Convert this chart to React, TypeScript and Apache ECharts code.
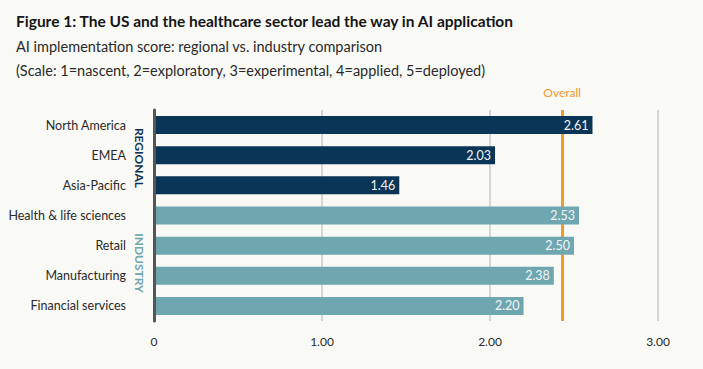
import React, { useEffect, useRef } from "react";
import * as echarts from "echarts";

const categories = [
  "North America",
  "EMEA",
  "Asia-Pacific",
  "Health & life sciences",
  "Retail",
  "Manufacturing",
  "Financial services",
];
const values = [2.61, 2.03, 1.46, 2.53, 2.5, 2.38, 2.2];
const groups = ["regional", "regional", "regional", "industry", "industry", "industry", "industry"];
const overall = 2.43;
const xTicks = [0, 1, 2, 3];

const NAVY = "#0b3556";
const TEAL = "#6fa7b1";
const ORANGE = "#f39a2b";
const FONT = "Lato, 'Noto Sans', sans-serif";

export default function App() {
  const ref = useRef<HTMLDivElement>(null);
  useEffect(() => {
    if (!ref.current) return;
    const chart = echarts.init(ref.current, undefined, { renderer: "svg" });
    chart.setOption({
      animation: false,
      backgroundColor: "#f9f9f6",
      textStyle: { fontFamily: FONT },
      title: [
        {
          text: "Figure 1: The US and the healthcare sector lead the way in AI application",
          left: 11,
          top: 8,
          textStyle: { fontFamily: FONT, fontSize: 15.5, fontWeight: "bold", color: "#151515" },
        },
        {
          text: "AI implementation score: regional vs. industry comparison",
          left: 11,
          top: 34,
          textStyle: { fontFamily: FONT, fontSize: 14.5, fontWeight: "normal", color: "#2a2a2a" },
        },
        {
          text: "(Scale: 1=nascent, 2=exploratory, 3=experimental, 4=applied, 5=deployed)",
          left: 11,
          top: 58,
          textStyle: { fontFamily: FONT, fontSize: 14.5, fontWeight: "normal", color: "#2a2a2a" },
        },
      ],
      grid: { left: 154, right: 45, top: 110, bottom: 48, containLabel: false },
      xAxis: {
        type: "value",
        min: xTicks[0],
        max: xTicks[xTicks.length - 1],
        interval: 1,
        axisLine: { show: false },
        axisTick: { show: false },
        splitLine: { show: true, lineStyle: { color: "#c9c9c6", width: 1.5 } },
        axisLabel: {
          margin: 14,
          color: "#2a2a2a",
          fontSize: 12,
          fontFamily: FONT,
          formatter: (v: number) => (v === 0 ? "0" : v.toFixed(2)),
        },
      },
      yAxis: {
        type: "category",
        inverse: true,
        data: categories,
        z: 10,
        axisLine: { show: true, lineStyle: { color: "#555555", width: 3 } },
        axisTick: { show: false },
        axisLabel: { margin: 28, color: "#2a2a2a", fontSize: 12.5, fontFamily: FONT },
      },
      series: [
        {
          type: "line",
          z: 1,
          data: [],
          markLine: {
            silent: true,
            symbol: "none",
            lineStyle: { color: ORANGE, width: 3, type: "solid" },
            label: {
              show: true,
              position: "start",
              formatter: "Overall",
              color: ORANGE,
              fontSize: 12,
              fontFamily: FONT,
              distance: 12,
            },
            data: [{ xAxis: overall }],
          },
        },
        {
          type: "bar",
          barWidth: 18,
          z: 5,
          data: values.map((v, i) => ({
            value: v,
            itemStyle: { color: groups[i] === "regional" ? NAVY : TEAL },
          })),
          label: {
            show: true,
            position: "insideRight",
            distance: 4,
            color: "#f4f4f4",
            fontSize: 12.5,
            fontFamily: FONT,
            formatter: (p: any) => Number(p.value).toFixed(2),
          },
        },
      ],
      graphic: [
        {
          type: "text",
          x: 139,
          y: 158,
          rotation: -Math.PI / 2,
          style: {
            text: "REGIONAL",
            fill: NAVY,
            font: `bold 12px ${FONT}`,
            textAlign: "center",
            textVerticalAlign: "middle",
          },
        },
        {
          type: "text",
          x: 139,
          y: 263,
          rotation: -Math.PI / 2,
          style: {
            text: "INDUSTRY",
            fill: TEAL,
            font: `bold 12px ${FONT}`,
            textAlign: "center",
            textVerticalAlign: "middle",
          },
        },
      ],
    });
    return () => chart.dispose();
  }, []);
  return (
    <div
      ref={ref}
      style={{ position: "fixed", left: 0, top: 0, width: 703, height: 369 }}
    />
  );
}
